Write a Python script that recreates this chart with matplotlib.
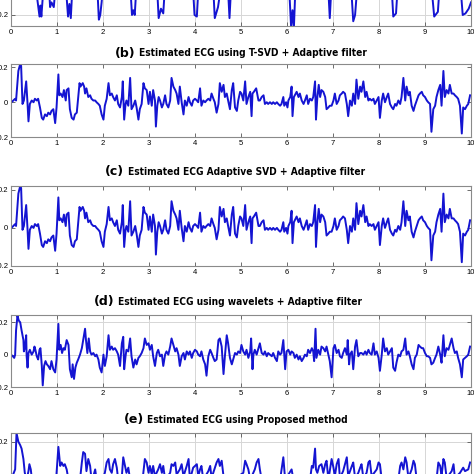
import matplotlib
matplotlib.use("Agg")
import matplotlib.pyplot as plt
from matplotlib import font_manager

# ---- data (time in s, amplitude) ----
# (a) only the lower edge of this panel is inside the picture
top_panel = [(0.00,-0.05),(0.55,-0.05),(0.62,-0.21),(0.64,-0.14),(0.66,-0.21),(0.70,-0.05),
             (0.83,-0.05),(0.85,-0.15),(0.88,-0.12),(0.93,-0.15),(0.96,-0.05),
             (1.20,-0.05),(1.24,-0.21),(1.27,-0.13),(1.30,-0.22),(1.33,-0.05),
             (1.88,-0.05),(1.91,-0.23),(1.94,-0.20),(1.97,-0.12),(1.99,-0.05),
             (2.60,-0.05),(2.63,-0.20),(2.66,-0.17),(2.69,-0.20),(2.72,-0.05),
             (3.18,-0.05),(3.21,-0.22),(3.26,-0.16),(3.31,-0.19),(3.34,-0.05),
             (3.96,-0.05),(3.99,-0.20),(4.04,-0.21),(4.07,-0.05),
             (4.40,-0.05),(4.43,-0.22),(4.50,-0.15),(4.55,-0.05),
             (4.72,-0.05),(4.75,-0.22),(4.78,-0.05),
             (6.05,-0.05),(6.09,-0.28),(6.12,-0.17),(6.15,-0.28),(6.18,-0.05),
             (6.90,-0.05),(6.93,-0.22),(6.96,-0.05),
             (7.40,-0.05),(7.44,-0.24),(7.48,-0.20),(7.52,-0.05),
             (8.28,-0.05),(8.31,-0.21),(8.37,-0.19),(8.40,-0.05),
             (9.15,-0.05),(9.20,-0.21),(9.28,-0.18),(9.31,-0.05),
             (9.78,-0.05),(9.82,-0.20),(9.88,-0.19),(9.95,-0.16),(10.0,-0.12)]

tsvd = [(0.01,0.00),(0.09,0.02),(0.11,0.01),(0.16,0.18),(0.20,0.22),(0.22,0.21),(0.25,-0.01),(0.28,0.01),
        (0.33,0.12),(0.36,-0.01),(0.38,-0.11),(0.41,-0.01),(0.45,0.01),(0.49,0.00),(0.52,0.02),(0.56,0.01),
        (0.59,0.02),(0.63,-0.03),(0.67,-0.09),(0.70,-0.10),(0.74,-0.07),(0.78,-0.08),(0.81,-0.06),(0.85,-0.07),
        (0.88,-0.05),(0.92,-0.04),(0.96,-0.12),(0.99,-0.03),(1.03,0.16),(1.05,0.04),(1.08,0.05),(1.12,0.03),
        (1.15,0.07),(1.19,0.01),(1.21,0.07),(1.25,0.08),(1.28,-0.04),(1.32,-0.09),(1.36,-0.10),(1.39,-0.07),
        (1.43,-0.06),(1.49,0.11),(1.51,0.09),(1.56,0.11),(1.59,0.09),(1.61,0.05),(1.64,0.08),(1.68,0.03),
        (1.72,0.04),(1.75,0.02),(1.79,0.01),(1.83,0.01),(1.86,0.00),(1.90,-0.01),(1.93,-0.02),(1.97,-0.07),
        (2.01,-0.10),(2.04,-0.02),(2.08,0.02),(2.12,0.11),(2.15,0.04),(2.19,0.05),(2.22,0.03),(2.26,0.01),
        (2.30,0.04),(2.33,-0.01),(2.37,-0.03),(2.41,0.03),(2.43,0.12),(2.46,-0.10),(2.49,-0.01),(2.51,0.01),
        (2.55,-0.02),(2.59,0.14),(2.62,-0.04),(2.66,-0.02),(2.70,0.01),(2.73,-0.03),(2.77,-0.10),(2.80,-0.04),
        (2.84,-0.01),(2.88,0.11),(2.91,0.08),(2.95,0.07),(2.99,-0.01),(3.02,0.06),(3.06,-0.02),(3.09,0.07),
        (3.13,0.01),(3.15,-0.14),(3.18,-0.02),(3.21,0.03),(3.24,0.01),(3.28,-0.03),(3.31,-0.01),(3.35,0.04),
        (3.38,-0.01),(3.42,-0.03),(3.46,0.01),(3.49,0.14),(3.53,0.09),(3.57,0.07),(3.60,0.05),(3.64,-0.01),
        (3.67,0.09),(3.71,0.00),(3.75,-0.07),(3.78,0.01),(3.82,-0.02),(3.86,0.03),(3.89,0.00),(3.93,-0.02),
        (3.96,0.01),(4.00,0.02),(4.04,0.01),(4.07,0.00),(4.11,0.08),(4.14,-0.02),(4.18,0.01),(4.22,0.00),
        (4.25,0.01),(4.29,0.02),(4.33,0.01),(4.36,0.05),(4.40,0.02),(4.43,0.00),(4.47,-0.06),(4.51,-0.01),
        (4.54,0.11),(4.58,0.06),(4.62,0.10),(4.65,0.03),(4.69,0.05),(4.72,0.01),(4.76,-0.04),(4.80,0.07),
        (4.83,0.11),(4.87,-0.03),(4.91,-0.05),(4.94,0.01),(4.98,0.06),
        (5.01,0.05),(5.05,0.01),(5.09,0.12),(5.12,-0.01),(5.16,0.03),(5.20,0.06),(5.23,-0.08),(5.25,0.05),
        (5.28,0.06),(5.33,0.08),(5.38,0.01),(5.41,0.01),(5.45,0.03),(5.49,0.04),(5.52,-0.01),(5.56,0.00),
        (5.59,-0.01),(5.63,0.00),(5.67,-0.01),(5.70,0.00),(5.74,-0.01),(5.78,0.00),(5.81,-0.01),(5.85,-0.02),
        (5.88,-0.01),(5.92,0.03),(5.94,-0.02),(5.98,0.00),(6.01,-0.03),(6.03,0.01),(6.07,0.03),(6.10,0.09),
        (6.12,-0.08),(6.15,0.03),(6.21,0.06),(6.25,0.03),(6.28,0.05),(6.32,0.01),(6.36,-0.01),(6.39,0.01),
        (6.43,0.04),(6.46,-0.01),(6.50,0.02),(6.54,0.01),(6.57,0.03),(6.61,0.12),(6.63,-0.10),(6.66,0.03),
        (6.69,0.10),(6.72,0.03),(6.75,0.07),(6.79,0.06),(6.83,0.03),(6.86,-0.04),(6.90,-0.03),(6.93,-0.02),
        (6.97,-0.02),(7.01,0.01),(7.04,0.05),(7.08,-0.01),(7.12,0.01),(7.15,0.04),(7.19,0.05),(7.22,0.06),
        (7.26,0.05),(7.30,-0.01),(7.33,-0.08),(7.37,0.01),(7.41,-0.02),(7.44,0.05),(7.48,-0.01),(7.51,0.13),
        (7.55,0.02),(7.59,0.09),(7.62,0.06),(7.66,0.12),(7.70,0.03),(7.73,0.06),(7.77,0.01),(7.80,0.02),
        (7.84,0.01),(7.88,0.02),(7.91,-0.01),(7.95,0.01),(7.99,0.03),(8.02,-0.09),(8.06,0.01),(8.09,0.05),
        (8.13,0.00),(8.17,0.03),(8.20,0.05),(8.24,-0.01),(8.28,-0.03),(8.31,-0.04),(8.35,-0.01),(8.38,-0.02),
        (8.42,0.01),(8.46,-0.01),(8.49,0.03),(8.53,0.14),(8.57,0.01),(8.60,0.09),(8.64,0.04),(8.67,0.06),
        (8.71,-0.02),(8.75,-0.05),(8.78,-0.02),(8.82,0.01),(8.86,0.04),(8.89,0.05),(8.93,0.06),(8.96,0.04),
        (9.00,0.03),(9.04,0.01),(9.07,0.00),(9.11,-0.01),(9.14,-0.17),(9.18,-0.04),(9.22,-0.02),(9.25,0.03),
        (9.29,0.07),(9.33,0.10),(9.36,-0.02),(9.40,0.18),(9.43,0.03),(9.47,0.07),(9.51,0.05),(9.54,0.10),
        (9.58,0.05),(9.62,0.05),(9.65,0.04),(9.69,0.03),(9.72,0.02),(9.76,-0.02),(9.80,-0.18),(9.83,-0.03),
        (9.87,-0.04),(9.91,-0.02),(9.94,-0.01),(9.98,0.04)]

# (c) looks the same as (b) in the reference
adaptive_svd = list(tsvd)

wavelets = [(0.00,0.00),(0.04,-0.01),(0.07,-0.02),(0.09,0.00),(0.11,0.15),(0.14,0.24),(0.17,0.21),(0.20,0.20),
            (0.23,0.15),(0.27,0.09),(0.28,0.02),(0.30,0.04),(0.33,0.12),(0.34,-0.01),(0.36,-0.08),(0.38,0.01),
            (0.41,0.03),(0.45,0.00),(0.49,0.02),(0.51,0.05),(0.53,0.03),(0.56,-0.01),(0.59,-0.03),(0.62,0.03),
            (0.64,0.04),(0.67,-0.07),(0.69,-0.19),(0.72,-0.07),(0.75,-0.04),(0.78,-0.06),(0.81,-0.07),(0.85,-0.09),
            (0.88,-0.04),(0.92,-0.09),(0.96,-0.11),(0.99,-0.03),(1.03,0.19),(1.05,0.03),(1.08,0.06),(1.11,0.01),
            (1.14,0.04),(1.17,0.03),(1.21,0.09),(1.25,0.06),(1.28,-0.09),(1.32,-0.14),(1.34,-0.06),(1.37,-0.15),
            (1.40,-0.08),(1.43,-0.05),(1.46,-0.03),(1.50,0.00),(1.54,0.04),(1.57,0.09),(1.61,0.16),(1.63,0.09),
            (1.66,0.01),(1.69,0.10),(1.72,0.02),(1.75,0.00),(1.79,0.01),(1.83,-0.01),(1.86,0.00),(1.90,-0.03),
            (1.93,-0.08),(1.97,-0.11),(2.01,0.00),(2.04,-0.07),(2.08,-0.01),(2.12,0.12),(2.15,0.03),(2.19,0.05),
            (2.22,0.03),(2.26,0.04),(2.30,0.02),(2.33,0.00),(2.37,-0.07),(2.41,0.07),(2.44,0.11),(2.46,-0.09),
            (2.49,-0.01),(2.51,0.03),(2.55,0.02),(2.59,0.10),(2.62,-0.01),(2.66,-0.08),(2.70,-0.03),(2.73,-0.06),
            (2.77,-0.02),(2.80,-0.01),(2.84,0.01),(2.88,0.04),(2.91,0.10),(2.95,0.06),(2.99,0.07),(3.02,0.03),
            (3.06,0.06),(3.09,-0.01),(3.13,-0.07),(3.17,0.01),(3.20,0.03),(3.24,-0.01),(3.28,0.00),(3.31,-0.07),
            (3.35,0.00),(3.38,0.02),(3.42,0.00),(3.46,0.05),(3.49,0.10),(3.53,0.06),(3.57,0.02),(3.60,0.04),
            (3.64,0.00),(3.67,-0.07),(3.71,-0.01),(3.75,0.01),(3.78,-0.03),(3.82,0.02),(3.86,0.00),(3.89,0.02),
            (3.93,-0.02),(3.96,0.01),(4.00,0.03),(4.04,0.02),(4.07,0.00),(4.11,-0.01),(4.14,0.02),(4.18,-0.03),
            (4.22,-0.06),(4.25,-0.13),(4.29,-0.01),(4.33,0.03),(4.36,0.01),(4.40,-0.02),(4.43,-0.04),(4.47,-0.03),
            (4.51,0.09),(4.54,0.10),(4.58,0.05),(4.62,-0.12),(4.65,-0.01),(4.69,0.12),(4.72,0.07),(4.76,-0.02),
            (4.80,-0.06),(4.83,-0.03),(4.87,0.01),(4.91,0.00),(4.94,0.02),(4.98,0.01),
            (5.01,0.06),(5.05,0.02),(5.09,0.00),(5.12,0.03),(5.16,-0.02),(5.20,0.02),(5.22,0.10),(5.25,-0.09),
            (5.27,0.00),(5.30,0.03),(5.34,0.00),(5.38,0.04),(5.41,0.07),(5.45,0.01),(5.49,0.00),(5.52,0.02),
            (5.56,-0.01),(5.59,0.01),(5.63,0.00),(5.67,-0.01),(5.70,0.01),(5.74,-0.02),(5.78,-0.04),(5.81,0.02),
            (5.85,0.00),(5.88,0.01),(5.92,0.09),(5.96,-0.09),(5.99,0.02),(6.03,0.03),(6.07,0.00),(6.10,0.02),
            (6.14,0.01),(6.17,-0.02),(6.21,0.00),(6.25,-0.03),(6.28,-0.01),(6.32,-0.04),(6.36,-0.02),(6.39,0.00),
            (6.43,-0.01),(6.46,0.03),(6.50,0.01),(6.54,0.04),(6.57,0.02),(6.59,-0.04),(6.62,0.16),(6.64,-0.02),
            (6.68,0.03),(6.72,0.00),(6.75,0.05),(6.79,0.04),(6.83,0.02),(6.86,0.05),(6.90,0.00),(6.93,-0.04),
            (6.97,-0.14),(7.01,0.04),(7.04,0.06),(7.08,0.01),(7.12,0.03),(7.15,-0.01),(7.19,-0.02),(7.22,0.01),
            (7.26,0.04),(7.30,0.00),(7.32,0.09),(7.35,-0.06),(7.37,0.00),(7.41,0.02),(7.44,-0.09),(7.48,0.05),
            (7.51,0.09),(7.55,-0.01),(7.59,0.01),(7.62,0.01),(7.66,0.00),(7.70,0.02),(7.73,0.00),(7.77,0.03),
            (7.80,0.01),(7.84,0.00),(7.88,0.07),(7.91,0.00),(7.95,0.02),(7.99,-0.02),(8.02,-0.10),(8.06,0.00),
            (8.09,0.10),(8.13,0.02),(8.17,0.04),(8.20,0.00),(8.24,0.02),(8.28,0.04),(8.31,-0.08),(8.35,-0.10),
            (8.38,-0.05),(8.42,0.00),(8.46,-0.01),(8.49,0.02),(8.53,0.03),(8.57,0.10),(8.60,0.00),(8.64,0.02),
            (8.67,-0.01),(8.71,-0.06),(8.75,-0.09),(8.78,-0.02),(8.82,0.00),(8.86,0.06),(8.89,0.05),(8.93,0.04),
            (8.96,0.04),(9.00,0.01),(9.04,-0.01),(9.07,-0.01),(9.11,-0.02),(9.14,-0.06),(9.18,-0.05),(9.22,-0.02),
            (9.25,0.00),(9.29,0.05),(9.33,0.00),(9.36,-0.05),(9.40,0.12),(9.43,-0.01),(9.47,0.04),(9.51,0.03),
            (9.54,0.06),(9.58,0.10),(9.62,0.04),(9.65,0.01),(9.69,0.02),(9.72,-0.02),(9.76,-0.06),(9.80,-0.14),
            (9.83,-0.03),(9.87,-0.02),(9.91,-0.01),(9.94,0.00),(9.98,0.05)]

# (e) only the upper part of this panel is inside the picture
proposed = [(0.00,-0.02),(0.09,0.04),(0.12,0.25),(0.16,0.20),(0.20,0.18),(0.23,0.16),(0.27,0.10),(0.30,0.02),
            (0.34,-0.02),(0.38,0.03),(0.40,0.07),(0.43,0.04),(0.46,-0.03),(0.70,-0.04),(0.98,-0.02),(1.03,0.17),
            (1.07,0.06),(1.10,0.08),(1.14,0.06),(1.17,0.07),(1.21,0.04),(1.25,-0.02),(1.39,-0.04),(1.50,-0.02),
            (1.54,0.08),(1.57,0.14),(1.61,0.13),(1.64,0.03),(1.68,0.10),(1.72,0.06),(1.75,-0.02),(1.79,0.00),
            (1.83,0.04),(1.86,-0.02),(1.97,-0.03),(2.04,0.02),(2.08,0.08),(2.12,0.10),(2.15,0.04),(2.19,0.02),
            (2.22,0.07),(2.26,0.10),(2.30,0.05),(2.33,-0.02),(2.41,0.00),(2.44,0.11),(2.48,0.06),(2.51,0.02),
            (2.55,0.05),(2.59,-0.02),(2.73,-0.03),(2.86,-0.02),(2.91,0.10),(2.95,0.08),(2.99,0.02),(3.02,0.06),
            (3.06,0.01),(3.09,0.06),(3.13,0.00),(3.20,0.04),(3.24,0.07),(3.28,0.02),(3.31,0.06),(3.35,-0.02),
            (3.46,0.02),(3.49,0.07),(3.53,0.06),(3.57,0.08),(3.60,0.01),(3.67,0.04),(3.71,0.07),(3.75,0.00),
            (3.82,0.06),(3.86,0.10),(3.89,-0.02),(3.96,0.05),(4.04,0.07),(4.07,0.00),(4.11,0.04),(4.14,0.06),
            (4.18,-0.02),(4.29,0.03),(4.33,0.06),(4.36,-0.01),(4.47,0.08),(4.51,0.10),(4.54,0.06),(4.58,0.09),
            (4.62,0.00),(4.69,-0.02),(4.83,-0.02),(5.05,0.02),(5.09,0.09),(5.12,0.07),(5.16,0.04),(5.20,-0.02),
            (5.30,0.04),(5.34,0.08),(5.38,0.10),(5.41,0.04),(5.45,-0.02),(5.85,-0.02),(5.92,0.11),(5.96,-0.02),
            (6.10,0.04),(6.14,-0.02),(6.50,-0.02),(6.54,0.06),(6.57,0.05),(6.61,0.16),(6.63,0.04),(6.66,0.02),
            (6.70,0.06),(6.75,0.07),(6.79,0.02),(6.83,0.07),(6.86,0.09),(6.90,-0.02),(6.97,0.10),(7.01,0.05),
            (7.04,0.00),(7.08,0.07),(7.12,0.10),(7.15,-0.01),(7.22,0.03),(7.26,0.07),(7.30,0.11),(7.33,0.00),
            (7.41,0.06),(7.44,0.08),(7.48,-0.01),(7.55,0.02),(7.59,0.05),(7.62,0.07),(7.66,-0.01),(7.73,0.02),
            (7.77,0.08),(7.80,0.09),(7.84,0.00),(7.95,0.04),(7.99,0.08),(8.02,0.07),(8.06,-0.02),(8.42,-0.02),
            (8.46,0.06),(8.49,0.08),(8.53,0.04),(8.57,0.11),(8.60,0.08),(8.64,-0.01),(8.71,0.04),(8.75,0.09),
            (8.78,0.07),(8.82,-0.02),(9.25,-0.02),(9.29,0.08),(9.33,0.06),(9.36,0.00),(9.40,0.10),(9.43,0.08),
            (9.47,-0.01),(9.58,0.03),(9.62,0.07),(9.65,-0.01),(9.76,0.02),(9.83,0.05),(9.87,0.03),(9.94,0.04),
            (9.98,0.08)]

labels = ["(b)", "(c)", "(d)", "(e)"]
titles = ["Estimated ECG using T-SVD + Adaptive filter",
          "Estimated ECG Adaptive SVD + Adaptive filter",
          "Estimated ECG using wavelets + Adaptive filter",
          "Estimated ECG using Proposed method"]
xticks = list(range(0, 11))
yticks = [-0.2, 0, 0.2]

W = H = 474
blue = "#1414d2"

# look for a condensed bold face, the titles in the reference are narrow
narrow_file = None
for f in font_manager.fontManager.ttflist:
    n = f.name.lower()
    if ("narrow" in n or "condensed" in n or "condensed" in str(f.stretch)) and f.weight in ("bold", 700):
        narrow_file = f.fname
        break
if narrow_file:
    title_font = font_manager.FontProperties(fname=narrow_file, size=8.5)
else:
    title_font = font_manager.FontProperties(family="Liberation Sans", weight="bold", size=8)
tick_font = ["Liberation Sans", "DejaVu Sans"]


def ax_at(top_px, bottom_px):
    return fig.add_axes([11 / W, 1 - bottom_px / H, 460 / W, (bottom_px - top_px) / H])


fig = plt.figure(figsize=(W / 100, H / 100), dpi=100)

# data, top px, bottom px, ylim, grid on?
panels = [
    (top_panel, -48, 26, (-0.27, 0.15), True),
    (tsvd, 64, 137, (-0.2, 0.22), False),
    (adaptive_svd, 186, 266, (-0.2, 0.22), False),
    (wavelets, 315, 387, (-0.2, 0.245), True),
    (proposed, 433, 511, (-0.2, 0.25), True),
]

for data, t_px, b_px, ylim, grid in panels:
    ax = ax_at(t_px, b_px)
    t = [p[0] for p in data]
    v = [p[1] for p in data]
    ax.plot(t, v, color=blue, lw=1.4)
    ax.set_xlim(0, 10)
    ax.set_ylim(*ylim)
    ax.set_xticks(xticks)
    ax.set_yticks(yticks)
    ax.set_yticklabels(["-0.2", "0", "0.2"])
    ax.tick_params(direction="in", top=True, right=True, length=3, width=0.6,
                   color="#555555", labelsize=5.5, pad=2)
    for lab in ax.get_xticklabels() + ax.get_yticklabels():
        lab.set_family(tick_font)
    for s in ax.spines.values():
        s.set_color("#8a8a8a")
        s.set_linewidth(0.8)
    if grid:
        ax.grid(True, color="#d6d6d6", lw=0.7)
        ax.set_axisbelow(True)

# titles: bold letter in parentheses, narrower bold text after it,
# centred where the reference has them
title_y = [53, 172, 302, 420]
title_cx = [241, 235, 228, 236]
title_w = [205, 190, 192, 173]
renderer = fig.canvas.get_renderer()
for lab, txt, ty, cx, tw in zip(labels, titles, title_y, title_cx, title_w):
    lt = fig.text(0, 1 - ty / H, lab, ha="left", va="center", fontsize=9,
                  fontweight="bold", family="DejaVu Sans")
    t = fig.text(0, 1 - ty / H, txt, ha="left", va="center",
                 fontproperties=title_font.copy())
    w = t.get_window_extent(renderer).width
    t.set_fontsize(max(7.3, min(9.5, t.get_fontsize() * tw / w)))
    lw_ = lt.get_window_extent(renderer).width
    w = t.get_window_extent(renderer).width
    left = cx - (lw_ + 3 + w) / 2
    lt.set_x(left / W)
    t.set_x((left + lw_ + 3) / W)

fig.savefig("out.png", dpi=100)
